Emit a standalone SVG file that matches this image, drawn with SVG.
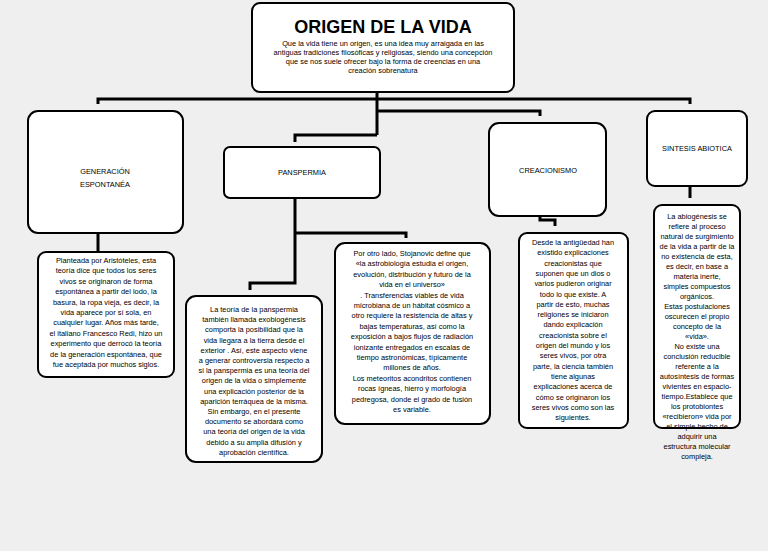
<svg xmlns="http://www.w3.org/2000/svg" width="768" height="551" viewBox="0 0 768 551">
<style>
.b{fill:#fff;stroke:#000;stroke-width:2}
.c{fill:none;stroke:#000;stroke-width:3}
text{font-family:"Liberation Sans","DejaVu Sans",sans-serif;font-size:7.4px;fill:#000;text-anchor:middle}
.t{font-size:18px;font-weight:bold}
</style>
<rect width="768" height="551" fill="#efefef"/>
<g id="connectors">
<polyline class="c" points="98,104 98,99 690,99 690,104"/>
<polyline class="c" points="377,93 377,135"/>
<polyline class="c" points="377,111 540,111 540,116"/>
<polyline class="c" points="377,135 295,135 295,142"/>
<polyline class="c" points="98,233 98,251"/>
<polyline class="c" points="295,198 295,283 250,283 250,290"/>
<polyline class="c" points="295,233 406,233 406,238"/>
<polyline class="c" points="540,216 540,220 555,220 555,226"/>
<polyline class="c" points="690,186 690,198"/>
</g>
<g id="origen">
<rect class="b" x="252" y="3" width="262" height="89" rx="8"/>
<text class="t" x="383" y="33">ORIGEN DE LA VIDA</text>
<text x="383" y="46">Que la vida tiene un origen, es una idea muy arraigada  en las</text>
<text x="383" y="55">antiguas tradiciones filosóficas y religiosas, siendo una concepción</text>
<text x="383" y="64">que se nos suele ofrecer bajo la forma de creencias en una</text>
<text x="383" y="73">creación  sobrenatura</text>
</g>
<g id="generacion">
<rect class="b" x="28" y="111" width="155" height="122" rx="10"/>
<text x="105" y="174">GENERACIÓN</text>
<text x="105" y="187">ESPONTANÉA</text>
</g>
<g id="generacion-texto">
<rect class="b" x="38" y="252" width="136" height="125" rx="8"/>
<text x="106" y="263">Planteada por Aristóteles, esta</text>
<text x="106" y="273.4">teoría  dice que todos los seres</text>
<text x="106" y="283.8">vivos se  originaron de forma</text>
<text x="106" y="294.2">espontánea a  partir del lodo, la</text>
<text x="106" y="304.6">basura, la ropa  vieja, es decir, la</text>
<text x="106" y="315">vida aparece por sí  sola, en</text>
<text x="106" y="325.4">cualquier lugar. Años más  tarde,</text>
<text x="106" y="335.8">el italiano Francesco Redi, hizo  un</text>
<text x="106" y="346.2">experimento que derrocó la teoría</text>
<text x="106" y="356.6">de la generación espontánea, que</text>
<text x="106" y="367">fue  aceptada por muchos siglos.</text>
</g>
<g id="panspermia">
<rect class="b" x="224" y="147" width="156" height="51" rx="6"/>
<text x="302" y="175">PANSPERMIA</text>
</g>
<g id="panspermia-texto1">
<rect class="b" x="186" y="296" width="136" height="166" rx="10"/>
<text x="254" y="312">La teoría de la panspermia</text>
<text x="254" y="322.2">también  llamada exobiogénesis</text>
<text x="254" y="332.4">comporta la  posibilidad que la</text>
<text x="254" y="342.6">vida llegara a la tierra  desde el</text>
<text x="254" y="352.8">exterior . Así, este aspecto viene</text>
<text x="254" y="363">a generar controversia respecto a</text>
<text x="254" y="373.2">si la  panspermia es una teoría del</text>
<text x="254" y="383.4">origen de la  vida o simplemente</text>
<text x="254" y="393.6">una explicación  posterior de la</text>
<text x="254" y="403.8">aparición terráquea de la  misma.</text>
<text x="254" y="414">Sin embargo, en el presente</text>
<text x="254" y="424.2">documento se abordará como</text>
<text x="254" y="434.4">una teoría  del origen de la vida</text>
<text x="254" y="444.6">debido a su amplia  difusión y</text>
<text x="254" y="454.8">aprobación científica.</text>
</g>
<g id="panspermia-texto2">
<rect class="b" x="335" y="243" width="155" height="181" rx="10"/>
<text x="412" y="256">Por otro lado, Stojanovic define que</text>
<text x="412" y="266.4">«la  astrobiología estudia el origen,</text>
<text x="412" y="276.8">evolución,  distribución y futuro de la</text>
<text x="412" y="287.2">vida en el universo»</text>
<text x="412" y="297.6">. Transferencias viables de vida</text>
<text x="412" y="308">microbiana de  un hábitat cósmico a</text>
<text x="412" y="318.4">otro requiere la  resistencia de altas y</text>
<text x="412" y="328.8">bajas temperaturas, así  como la</text>
<text x="412" y="339.2">exposición a bajos flujos de radiación</text>
<text x="412" y="349.6">ionizante entregados en escalas de</text>
<text x="412" y="360">tiempo  astronómicas, típicamente</text>
<text x="412" y="370.4">millones de años.</text>
<text x="412" y="380.8">Los meteoritos acondritos contienen</text>
<text x="412" y="391.2">rocas  ígneas, hierro y morfología</text>
<text x="412" y="401.6">pedregosa, donde  el grado de fusión</text>
<text x="412" y="412">es variable.</text>
</g>
<g id="creacionismo">
<rect class="b" x="489" y="123" width="117" height="93" rx="10"/>
<text x="548" y="173">CREACIONISMO</text>
</g>
<g id="creacionismo-texto">
<rect class="b" x="519" y="233" width="109" height="195" rx="8"/>
<text x="573" y="245">Desde la antigüedad han</text>
<text x="573" y="255.3">existido explicaciones</text>
<text x="573" y="265.6">creacionistas que</text>
<text x="573" y="275.9">suponen  que un dios o</text>
<text x="573" y="286.2">varios  pudieron originar</text>
<text x="573" y="296.5">todo lo  que existe. A</text>
<text x="573" y="306.8">partir de esto,  muchas</text>
<text x="573" y="317.1">religiones se  iniciaron</text>
<text x="573" y="327.4">dando explicación</text>
<text x="573" y="337.7">creacionista sobre el</text>
<text x="573" y="348">origen  del mundo y los</text>
<text x="573" y="358.3">seres vivos,  por otra</text>
<text x="573" y="368.6">parte, la ciencia  también</text>
<text x="573" y="378.9">tiene algunas</text>
<text x="573" y="389.2">explicaciones acerca de</text>
<text x="573" y="399.5">cómo se originaron los</text>
<text x="573" y="409.8">seres  vivos como son las</text>
<text x="573" y="420.1">siguientes.</text>
</g>
<g id="sintesis">
<rect class="b" x="647" y="111" width="100" height="75" rx="8"/>
<text x="697" y="151">SINTESIS ABIOTICA</text>
</g>
<g id="sintesis-texto">
<rect class="b" x="654" y="205" width="86" height="223" rx="8"/>
<text x="697" y="219">La abiogénesis se</text>
<text x="697" y="229">refiere al proceso</text>
<text x="697" y="239">natural de surgimiento</text>
<text x="697" y="249">de la vida a partir de la</text>
<text x="697" y="259">no existencia de esta,</text>
<text x="697" y="269">es decir, en base a</text>
<text x="697" y="279">materia inerte,</text>
<text x="697" y="289">simples  compuestos</text>
<text x="697" y="299">orgánicos.</text>
<text x="697" y="309">Estas  postulaciones</text>
<text x="697" y="319">oscurecen  el  propio</text>
<text x="697" y="329">concepto     de     la</text>
<text x="697" y="339">«vida».</text>
<text x="697" y="349">No existe una</text>
<text x="697" y="359">conclusión reducible</text>
<text x="697" y="369">referente a la</text>
<text x="697" y="379">autosíntesis de formas</text>
<text x="697" y="389">vivientes en espacio-</text>
<text x="697" y="399">tiempo.Establece que</text>
<text x="697" y="409">los protobiontes</text>
<text x="697" y="419">«recibieron» vida por</text>
<text x="697" y="429">el simple hecho de</text>
<text x="697" y="439">adquirir una</text>
<text x="697" y="449">estructura  molecular</text>
<text x="697" y="459">compleja.</text>
</g>
</svg>
